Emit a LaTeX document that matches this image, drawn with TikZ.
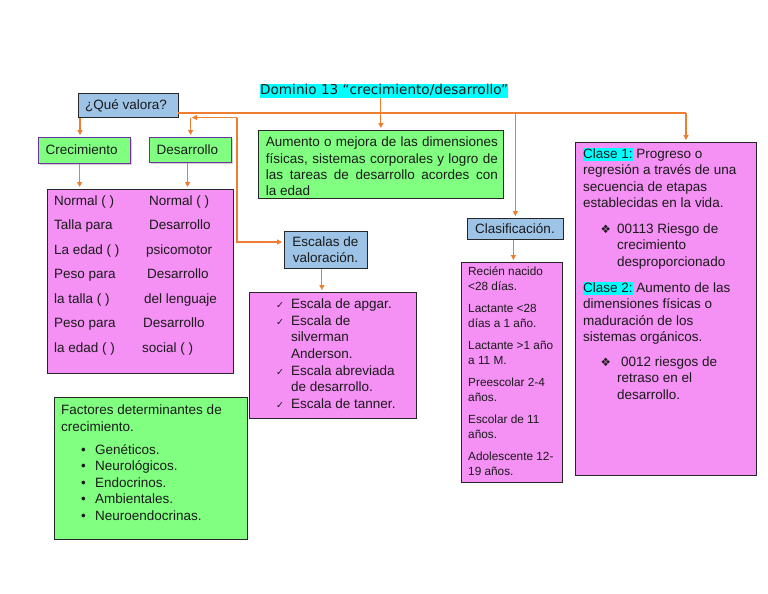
\documentclass[tikz,border=0pt]{standalone}
\usepackage{fontspec}
\setmainfont{Liberation Sans}
\newfontfamily\djv{DejaVu Sans}
\usetikzlibrary{arrows.meta,shadows}
\definecolor{lgreen}{HTML}{80FF80}
\definecolor{lpink}{HTML}{F590F5}
\definecolor{lblue}{HTML}{9DC3E6}
\definecolor{lorange}{HTML}{ED7D31}
\definecolor{purp}{HTML}{7030A0}
\definecolor{cyanh}{HTML}{00FFFF}
\definecolor{ink}{HTML}{1A1A1A}
\newcommand\fA{\fontsize{13.5}{16.5}\selectfont}
\newcommand\fB{\fontsize{11.8}{15}\selectfont}
\newcommand\hlc[1]{{\setlength\fboxsep{0pt}\colorbox{cyanh}{\rule[-2.5pt]{0pt}{13pt}#1}}}
\newcommand\chk{{\djv\fontsize{9.5}{10}\selectfont ✓}}
\newcommand\dia{{\djv\fontsize{11.5}{12}\selectfont ❖}}
\begin{document}
\begin{tikzpicture}[x=1pt,y=-1pt,
  box/.style={draw=black!85,line width=0.8pt,inner sep=0pt,anchor=north west},
  pbox/.style={draw=purp,line width=1.2pt,inner sep=0pt,anchor=north west,fill=lgreen,
     drop shadow={opacity=0.35,shadow xshift=1.2pt,shadow yshift=-1.2pt}},
  txt/.style={anchor=base west,inner sep=0pt,font=\fA,text=ink},
  txtc/.style={anchor=base,inner sep=0pt,font=\fA,text=ink},
  txts/.style={anchor=base west,inner sep=0pt,font=\fB,text=ink},
  ln/.style={draw=lorange,line width=1.1pt},
  arr/.style={draw=lorange,line width=1.1pt,-{Triangle[length=5pt,width=5pt]},shorten >=2pt}]
\useasboundingbox[fill=white] (0,0) rectangle (768,594);

% ---------- boxes ----------
\node[box,fill=lblue,minimum width=100pt,minimum height=24pt] (que) at (78,93) {};
\node[pbox,minimum width=92pt,minimum height=26pt] (crec) at (38,137) {};
\node[pbox,minimum width=82pt,minimum height=25pt] (desa) at (149,137) {};
\node[box,fill=lpink,minimum width=186pt,minimum height=184pt] (pk1) at (47,189) {};
\node[box,fill=lgreen,minimum width=245pt,minimum height=68pt] (aum) at (258,130) {};
\node[box,fill=lblue,minimum width=83pt,minimum height=37pt] (esc) at (284,231) {};
\node[box,fill=lpink,minimum width=167pt,minimum height=126pt] (escl) at (249,292) {};
\node[box,fill=lblue,minimum width=96pt,minimum height=21pt] (cla) at (467,218) {};
\node[box,fill=lpink,minimum width=101pt,minimum height=220pt] (clal) at (461,262) {};
\node[box,fill=lpink,minimum width=181pt,minimum height=333pt] (clase) at (575,142) {};
\node[box,fill=lgreen,minimum width=193pt,minimum height=142pt] (fac) at (54,397) {};

% ---------- title ----------
\node[anchor=base west,inner sep=0pt,fill=cyanh,text=ink,font=\djv\fontsize{13.6}{16}\selectfont] (title) at (260,94)
  {\rule[-3.5pt]{0pt}{11pt}Dominio 13 “crecimiento/desarrollo”};

% ---------- texts ----------
\node[txt] (tque) at (85,109) {¿Qué valora?};
\node[txt] (tcrec) at (45.5,154) {Crecimiento};
\node[txt] (tdesa) at (156.5,154) {Desarrollo};

\foreach \i/\l/\rx/\r in {0/Normal ( )/149/Normal ( ),1/Talla para/149/Desarrollo,2/La edad ( )/146/psicomotor,
  3/Peso para/147/Desarrollo,4/la talla ( )/144/del lenguaje,5/Peso para/143/Desarrollo,6/la edad ( )/142/social ( )}{
  \node[txt] (pl\i) at (54,205+24.5*\i) {\l};
  \node[txt] (pr\i) at (\rx,205+24.5*\i) {\r};
}

\node[txt] (a1) at (265.7,146.5) {\makebox[232pt][s]{Aumento o mejora de las dimensiones}};
\node[txt] (a2) at (265.7,163) {\makebox[232pt][s]{físicas, sistemas corporales y logro de}};
\node[txt] (a3) at (265.7,179.5) {\makebox[232pt][s]{las tareas de desarrollo acordes con}};
\node[txt] (a4) at (265.7,195.5) {la edad};

\node[txtc] (e1) at (325.5,246) {Escalas de};
\node[txtc] (e2) at (325.5,262) {valoración.};

\node[txt] (c1) at (276,308) {\chk};
\node[txt] (l1) at (291,308) {Escala de apgar.};
\node[txt] (c2) at (276,325) {\chk};
\node[txt] (l2) at (291,325) {Escala de};
\node[txt] (l3) at (291,341.5) {silverman};
\node[txt] (l4) at (291,358) {Anderson.};
\node[txt] (c3) at (276,375) {\chk};
\node[txt] (l5) at (291,375) {Escala abreviada};
\node[txt] (l6) at (291,391.5) {de desarrollo.};
\node[txt] (c4) at (276,408) {\chk};
\node[txt] (l7) at (291,408) {Escala de tanner.};

\node[txtc] (tcla) at (515,233) {Clasificación.};

\foreach \i/\a/\b in {0/Recién nacido/<28 días.,1/Lactante <28/días a 1 año.,2/Lactante >1 año/a 11 M.,
  3/Preescolar 2-4/años.,4/Escolar de 11/años.,5/Adolescente 12-/19 años.}{
  \node[txts] (ka\i) at (468,275+37*\i) {\a};
  \node[txts] (kb\i) at (468,290.5+37*\i) {\b};
}

\node[txt] (s1) at (583,158) {\hlc{Clase 1:} Progreso o};
\node[txt] (s2) at (583,174.5) {regresión a través de una};
\node[txt] (s3) at (583,191) {secuencia de etapas};
\node[txt] (s4) at (583,207.5) {establecidas en la vida.};
\node[txt] (d1) at (600.5,233) {\dia};
\node[txt] (s5) at (617,233) {00113 Riesgo de};
\node[txt] (s6) at (617,249.5) {crecimiento};
\node[txt] (s7) at (617,266) {desproporcionado};
\node[txt] (s8) at (583,292) {\hlc{Clase 2:} Aumento de las};
\node[txt] (s9) at (583,308.5) {dimensiones físicas o};
\node[txt] (s10) at (583,325) {maduración de los};
\node[txt] (s11) at (583,341.5) {sistemas orgánicos.};
\node[txt] (d2) at (600.5,366) {\dia};
\node[txt] (s12) at (621,366) {0012 riesgos de};
\node[txt] (s13) at (617,382.5) {retraso en el};
\node[txt] (s14) at (617,399) {desarrollo.};

\node[txt] (f1) at (61,414) {Factores determinantes de};
\node[txt] (f2) at (61,431) {crecimiento.};
\foreach \i/\t in {0/Genéticos.,1/Neurológicos.,2/Endocrinos.,3/Ambientales.,4/Neuroendocrinas.}{
  \node[txt] (fb\i) at (81,454+16.6*\i) {•};
  \node[txt] (ft\i) at (95,454+16.6*\i) {\t};
}

% ---------- connectors ----------
\coordinate (h0) at (178,113);
\coordinate (h1) at (686,113);
\coordinate (j0) at (237,117.5);
\coordinate (j1) at (190,117.5);
\coordinate (j2) at (237,242);
\draw[ln] (h0) -- (h1);
\draw[arr] (h1) -- (h1 |- clase.north);
\draw[arr] (aum.north |- title.south) -- (aum.north);
\draw[arr] (cla.north |- h0) -- (cla.north);
\draw[arr] ([xshift=2pt]que.south west) -- ([xshift=2pt]que.south west |- crec.north);
\draw[arr] (j0) -- (j1);
\draw[arr] (desa.north |- j1) -- (desa.north);
\draw[arr] (j0) -- (j2) -- (esc.west |- j2);
\draw[arr] ([xshift=-5pt]crec.south) -- ([xshift=-5pt]crec.south |- pk1.north);
\draw[arr] ([xshift=-3pt]desa.south) -- ([xshift=-3pt]desa.south |- pk1.north);
\draw[arr] ([xshift=-4pt]esc.south) -- ([xshift=-4pt]esc.south |- escl.north);
\draw[arr] ([xshift=-2pt]cla.south) -- ([xshift=-2pt]cla.south |- clal.north);
\end{tikzpicture}
\end{document}
